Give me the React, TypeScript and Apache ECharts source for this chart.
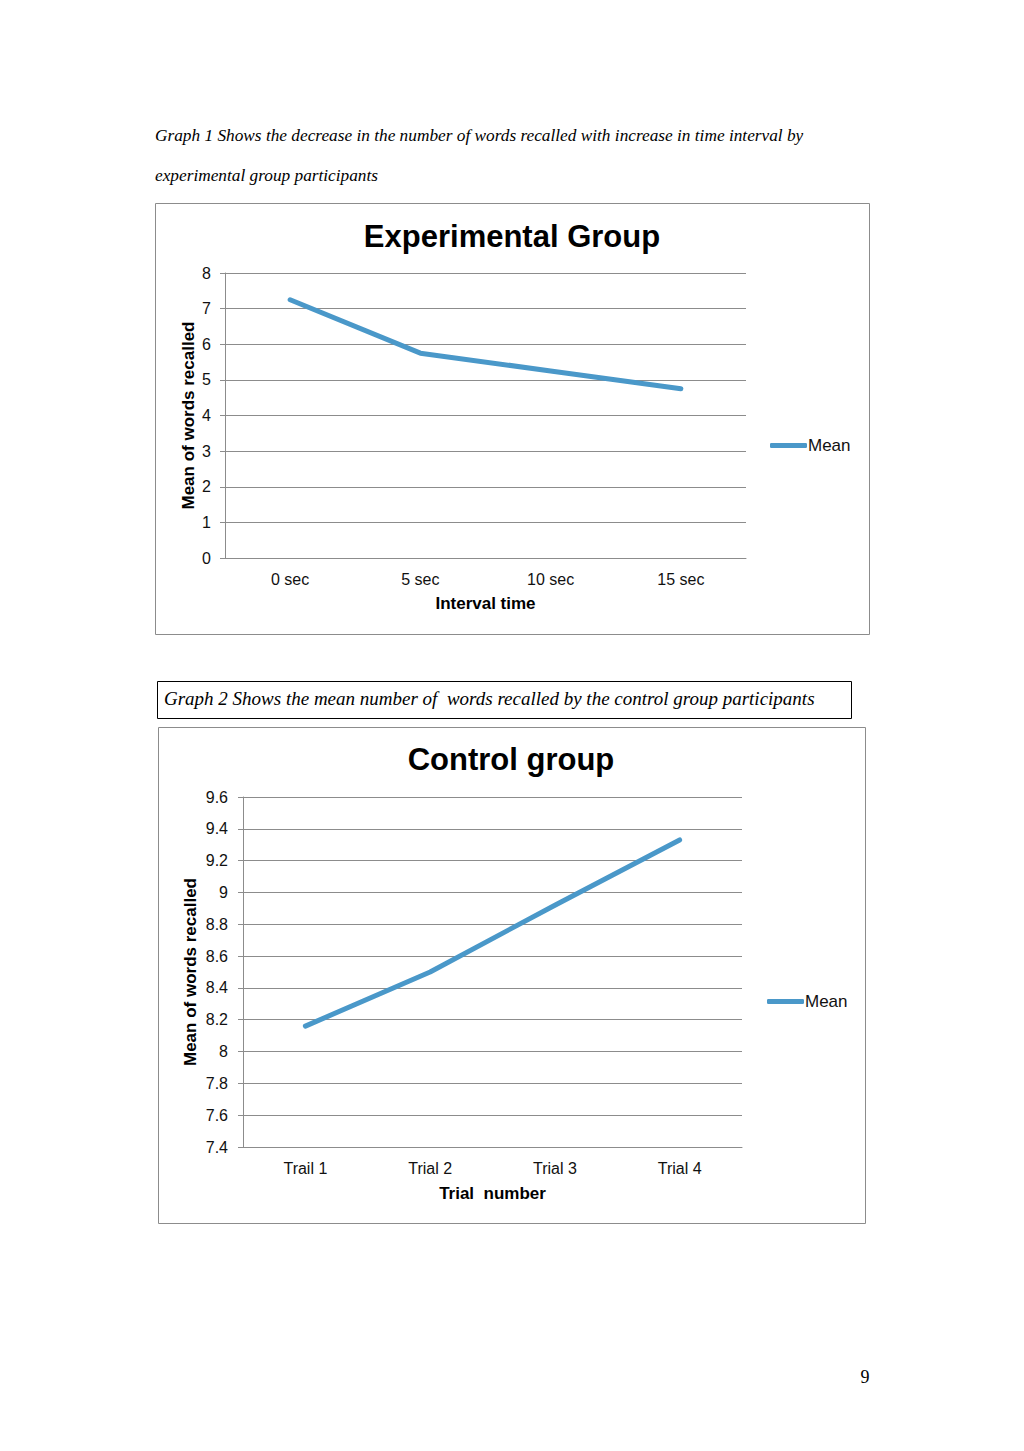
import React, { useEffect, useRef } from "react";
import * as echarts from "echarts";

const expCategories = ["0 sec", "5 sec", "10 sec", "15 sec"];
const expMeans = [7.25, 5.75, 5.25, 4.75];

const ctlCategories = ["Trail 1", "Trial 2", "Trial 3", "Trial 4"];
const ctlMeans = [8.16, 8.5, 8.92, 9.33];

const caption1a = "Graph 1 Shows the decrease in the number of words recalled with increase in time interval by";
const caption1b = "experimental group participants";
const caption2 = "Graph 2 Shows the mean number of  words recalled by the control group participants";

const LINE = "#4A98C9";
const GRID = "#8C8C8C";
const SANS = "'Liberation Sans', Arial, sans-serif";
const SERIF = "'Liberation Serif', 'Times New Roman', serif";

export default function App() {
  const ref = useRef<HTMLDivElement>(null);
  useEffect(() => {
    if (!ref.current) return;
    const chart = echarts.init(ref.current, null, { renderer: "svg" });
    const axisLabel = (margin: number) => ({ color: "#111", fontSize: 16, fontFamily: SANS, margin });
    const yBase = {
      type: "value",
      axisLine: { show: true, lineStyle: { color: GRID, width: 1 } },
      axisTick: { show: true, length: 5, lineStyle: { color: GRID } },
      splitLine: { show: true, lineStyle: { color: GRID, width: 1 } },
      nameLocation: "middle",
      nameRotate: 90,
      nameMoveOverlap: false,
      nameTextStyle: { fontSize: 17, fontWeight: "bold", color: "#000", fontFamily: SANS },
      name: "Mean of words recalled",
    };
    const xBase = {
      type: "category",
      boundaryGap: true,
      axisLine: { show: true, lineStyle: { color: GRID, width: 1 } },
      axisTick: { show: false },
      nameLocation: "middle",
      nameMoveOverlap: false,
      nameTextStyle: { fontSize: 17, fontWeight: "bold", color: "#000", fontFamily: SANS },
    };
    chart.setOption({
      animation: false,
      backgroundColor: "#fff",
      title: [
        { text: "Experimental Group", left: 507, top: 216, textAlign: "center",
          textStyle: { fontSize: 31, fontWeight: "bold", color: "#000", fontFamily: SANS } },
        { text: "Control group", left: 506, top: 739, textAlign: "center",
          textStyle: { fontSize: 31, fontWeight: "bold", color: "#000", fontFamily: SANS } },
      ],
      legend: [
        { data: [{ name: "Mean", icon: "roundRect" }], left: 770, top: 437, padding: 0, itemWidth: 37, itemHeight: 5,
          textStyle: { fontSize: 17, color: "#111", fontFamily: SANS, padding: [0, 0, 0, -4] } },
        { data: [{ name: "Mean ", icon: "roundRect" }], left: 767, top: 993, padding: 0, itemWidth: 37, itemHeight: 5,
          textStyle: { fontSize: 17, color: "#111", fontFamily: SANS, padding: [0, 0, 0, -4] } },
      ],
      grid: [
        { left: 225, top: 273, width: 521, height: 285 },
        { left: 243, top: 797, width: 499, height: 350 },
      ],
      xAxis: [
        { ...xBase, gridIndex: 0, data: expCategories, name: "Interval time", nameGap: 37, axisLabel: axisLabel(13) },
        { ...xBase, gridIndex: 1, data: ctlCategories, name: "Trial  number", nameGap: 38, axisLabel: axisLabel(13) },
      ],
      yAxis: [
        { ...yBase, gridIndex: 0, min: 0, max: 8, interval: 1, nameGap: 28, axisLabel: axisLabel(14) },
        { ...yBase, gridIndex: 1, min: 7.4, max: 9.6, interval: 0.2, nameGap: 44, axisLabel: axisLabel(15) },
      ],
      series: [
        { name: "Mean", type: "line", xAxisIndex: 0, yAxisIndex: 0, data: expMeans, symbol: "none",
          itemStyle: { color: LINE }, lineStyle: { color: LINE, width: 5, cap: "round", join: "round" } },
        { name: "Mean ", type: "line", xAxisIndex: 1, yAxisIndex: 1, data: ctlMeans, symbol: "none",
          itemStyle: { color: LINE }, lineStyle: { color: LINE, width: 5, cap: "round", join: "round" } },
      ],
      graphic: [
        { type: "rect", shape: { x: 155.5, y: 203.5, width: 714, height: 431 }, style: { fill: "none", stroke: GRID, lineWidth: 1 }, z: -1 },
        { type: "rect", shape: { x: 158.5, y: 727.5, width: 707, height: 496 }, style: { fill: "none", stroke: GRID, lineWidth: 1 }, z: -1 },
        { type: "rect", shape: { x: 157.5, y: 681.5, width: 694, height: 37 }, style: { fill: "none", stroke: "#000", lineWidth: 1 } },
        { type: "text", x: 155, y: 135, style: { text: caption1a, font: `italic 17.3px ${SERIF}`, fill: "#000", verticalAlign: "middle" } },
        { type: "text", x: 155, y: 175, style: { text: caption1b, font: `italic 17.3px ${SERIF}`, fill: "#000", verticalAlign: "middle" } },
        { type: "text", x: 164, y: 698, style: { text: caption2, font: `italic 19px ${SERIF}`, fill: "#000", verticalAlign: "middle" } },
        { type: "text", x: 865, y: 1377, style: { text: "9", font: `18px ${SERIF}`, fill: "#000", verticalAlign: "middle", align: "center" } },
      ],
    });
    return () => chart.dispose();
  }, []);
  return <div ref={ref} style={{ position: "absolute", left: 0, top: 0, width: 1024, height: 1451 }} />;
}
